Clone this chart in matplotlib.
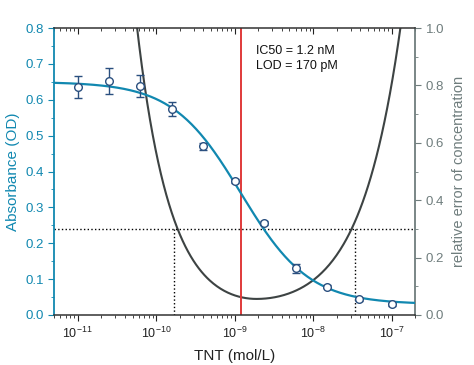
import numpy as np
import matplotlib
matplotlib.use("Agg")
import matplotlib.pyplot as plt
from matplotlib.ticker import LogLocator, MultipleLocator, FixedLocator, NullFormatter

plt.rcParams['font.family'] = ['Liberation Sans', 'DejaVu Sans']
plt.rcParams['mathtext.fontset'] = 'custom'
plt.rcParams['mathtext.rm'] = 'Liberation Sans'
plt.rcParams['mathtext.default'] = 'regular'

# measured points (TNT concentration in mol/L, absorbance)
conc = [1e-11, 2.5e-11, 6.3e-11, 1.6e-10, 4e-10, 1e-9, 2.4e-9, 6e-9, 1.5e-8, 3.8e-8, 1e-7]
absorb = [0.636, 0.653, 0.638, 0.574, 0.471, 0.373, 0.256, 0.130, 0.079, 0.044, 0.030]
absorb_err = [0.031, 0.036, 0.031, 0.020, 0.010, 0.005, 0.005, 0.013, 0.005, 0.004, 0.004]

# 4PL fit parameters
top, bottom, ic50, hill = 0.65, 0.03, 1.2e-9, 1.0
# precision profile parameters (min rel. error, position, left/right steepness)
err_min, err_pos, k_left, k_right = 0.056, 1.9e-9, 2.35, 1.95
threshold = 0.3
lod, upper = 1.7e-10, 3.4e-8

teal = '#1188b0'
gray = '#3d4343'
axgray = '#6f7d7d'

fig = plt.figure(figsize=(4.74, 3.65), dpi=100)
ax = fig.add_axes([0.114, 0.137, 0.762, 0.786])
ax2 = ax.twinx()

xs = np.logspace(np.log10(5e-12), np.log10(2e-7), 400)
fit = bottom + (top - bottom) / (1 + (xs / ic50) ** hill)
t = np.log10(xs) - np.log10(err_pos)
relerr = np.where(t < 0, err_min * np.cosh(k_left * t), err_min * np.cosh(k_right * t))

ax2.plot(xs, relerr, color=gray, lw=1.5, zorder=2)
ax2.plot([xs[0], xs[-1]], [threshold, threshold], color='k', ls=':', lw=1.0)
ax2.plot([lod, lod], [0, threshold], color='k', ls=':', lw=1.0)
ax2.plot([upper, upper], [0, threshold], color='k', ls=':', lw=1.0)
ax2.axvline(ic50, color='#e03a3a', lw=1.4)

ax.plot(xs, fit, color=teal, lw=1.6, zorder=3)
ax.errorbar(conc, absorb, yerr=absorb_err, fmt='o', ms=5.5, mfc='white', mec='#2a4f7f',
            mew=1.0, ecolor='#2a4f7f', elinewidth=1.0, capsize=3, capthick=1.0, zorder=4)
ax.set_zorder(ax2.get_zorder() + 1)
ax.patch.set_visible(False)

ax.set_xscale('log')
ax.set_xlim(5e-12, 2e-7)
ax.set_ylim(0, 0.8)
ax2.set_ylim(0, 1.0)

ax.xaxis.set_major_locator(FixedLocator([1e-11, 1e-10, 1e-9, 1e-8, 1e-7]))
ax.xaxis.set_minor_locator(LogLocator(base=10, subs=np.arange(2, 10), numticks=20))
ax.xaxis.set_minor_formatter(NullFormatter())
ax.set_xticklabels(['$10^{-11}$', '$10^{-10}$', '$10^{-9}$', '$10^{-8}$', '$10^{-7}$'])
ax.tick_params(axis='x', which='both', top=False, labelsize=9, colors='#222222', direction='out')
ax.tick_params(axis='x', which='major', length=4)
ax.tick_params(axis='x', which='minor', length=2.5)
# top ticks point inward
ax2.xaxis.set_visible(True)
ax2.tick_params(axis='x', which='both', top=True, bottom=False, labeltop=False,
                labelbottom=False, direction='in', colors='#222222')
ax2.tick_params(axis='x', which='major', length=4)
ax2.tick_params(axis='x', which='minor', length=2.5)

ax.yaxis.set_major_locator(MultipleLocator(0.1))
ax.yaxis.set_minor_locator(MultipleLocator(0.05))
ax.tick_params(axis='y', which='both', colors=teal, labelsize=9.5)
ax.tick_params(axis='y', which='major', length=4)
ax.tick_params(axis='y', which='minor', length=2.5)
ax.yaxis.set_major_formatter(plt.FuncFormatter(lambda v, p: f'{v:.1f}'))

ax2.yaxis.set_major_locator(MultipleLocator(0.2))
ax2.yaxis.set_minor_locator(MultipleLocator(0.1))
ax2.tick_params(axis='y', which='both', colors=axgray, labelsize=9.5)
ax2.tick_params(axis='y', which='major', length=4)
ax2.tick_params(axis='y', which='minor', length=2.5)
ax2.yaxis.set_major_formatter(plt.FuncFormatter(lambda v, p: f'{v:.1f}'))

ax.spines['left'].set_color(teal)
ax.spines['left'].set_linewidth(1.3)
ax2.spines['left'].set_visible(False)
ax2.spines['right'].set_color(axgray)
ax2.spines['right'].set_linewidth(1.3)
ax.spines['right'].set_visible(False)
for sp in ['top', 'bottom']:
    ax.spines[sp].set_color('#333333')
    ax.spines[sp].set_linewidth(1.1)
    ax2.spines[sp].set_visible(False)

ax.set_xlabel('TNT (mol/L)', fontsize=11, color='#222222', labelpad=6)
ax.set_ylabel('Absorbance (OD)', fontsize=11, color=teal, labelpad=4)
ax2.set_ylabel('relative error of concentration', fontsize=10.5, color=axgray, labelpad=6)

ax.text(0.56, 0.94, 'IC50 = 1.2 nM\nLOD = 170 pM', transform=ax.transAxes,
        fontsize=9, color='#111111', va='top', ha='left', linespacing=1.3)

fig.savefig('out.png', dpi=100)
